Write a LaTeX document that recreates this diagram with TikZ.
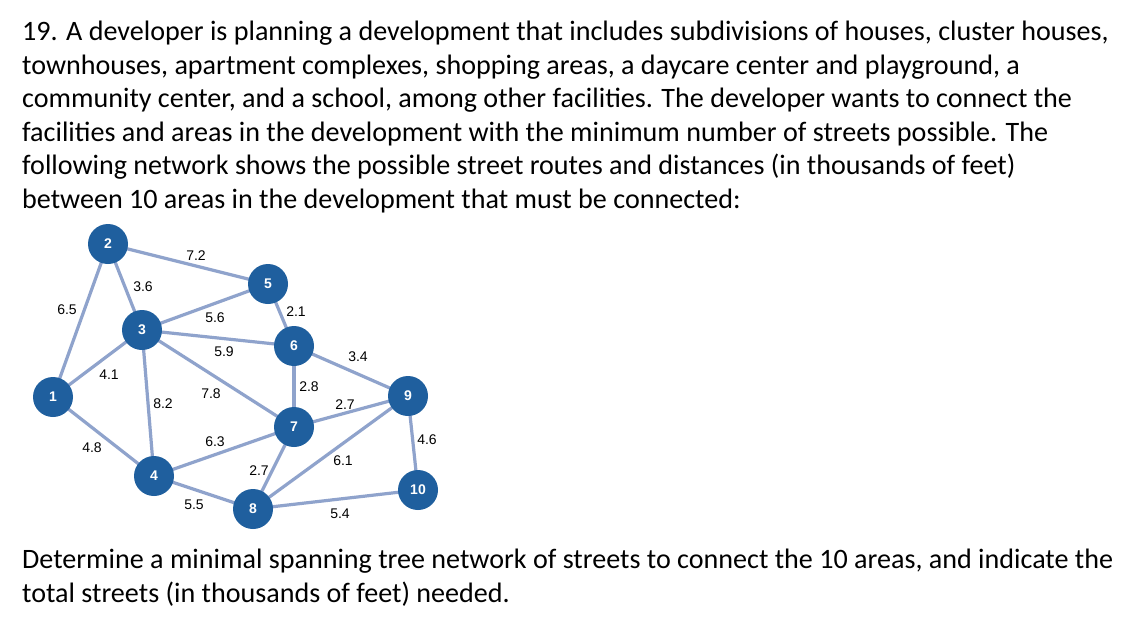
\documentclass[tikz,border=0pt]{standalone}
\usepackage{fontspec}
\setmainfont{Carlito}
\newfontfamily\lab{Liberation Sans}
\begin{document}
\begin{tikzpicture}[x=1pt,y=-1pt,
  vtx/.style={circle,fill=nodeblue,minimum size=40pt,inner sep=0pt,text=white,font=\lab\bfseries\fontsize{14}{14}\selectfont},
  edge/.style={draw=edgeblue,line width=3.2pt},
  wl/.style={font=\lab\fontsize{14}{14}\selectfont,inner sep=0pt},
  txt/.style={anchor=base west,inner sep=0pt,font=\fontsize{28.1}{28}\selectfont}]
\definecolor{nodeblue}{HTML}{1F5F9E}
\definecolor{edgeblue}{HTML}{8FA3CC}
\useasboundingbox (0,0) rectangle (1142,627);
\fill[white] (0,0) rectangle (1142,627);
\node[txt] (t1) at (22,40) {19. A developer is planning a development that includes subdivisions of houses, cluster houses,};
\node[txt] (t2) at (22,74) {townhouses, apartment complexes, shopping areas, a daycare center and playground, a};
\node[txt] (t3) at (22,107) {community center, and a school, among other facilities. The developer wants to connect the};
\node[txt] (t4) at (22,141) {facilities and areas in the development with the minimum number of streets possible. The};
\node[txt] (t5) at (22,174) {following network shows the possible street routes and distances (in thousands of feet)};
\node[txt] (t6) at (22,208) {between 10 areas in the development that must be connected:};
\node[txt] (t7) at (22,568) {Determine a minimal spanning tree network of streets to connect the 10 areas, and indicate the};
\node[txt] (t8) at (22,602) {total streets (in thousands of feet) needed.};
\coordinate (p1) at (53,397);
\coordinate (p2) at (108,244);
\coordinate (p3) at (142,330);
\coordinate (p4) at (154,476);
\coordinate (p5) at (268,284);
\coordinate (p6) at (294,346);
\coordinate (p7) at (294,427);
\coordinate (p8) at (253,509);
\coordinate (p9) at (408,396);
\coordinate (p10) at (418,490);
\foreach \a/\b in {1/2,2/3,2/5,3/5,3/6,3/1,3/7,3/4,1/4,5/6,6/7,6/9,7/9,7/4,7/8,9/8,9/10,4/8,8/10}
  \draw[edge] (p\a) -- (p\b);
\foreach \i in {1,...,10} \node[vtx] (n\i) at (p\i) {\i};
\node[wl] (l1) at (196,256) {7.2};
\node[wl] (l2) at (143,287) {3.6};
\node[wl] (l3) at (67,310) {6.5};
\node[wl] (l4) at (215,318) {5.6};
\node[wl] (l5) at (296,312) {2.1};
\node[wl] (l6) at (224,352) {5.9};
\node[wl] (l7) at (358,357) {3.4};
\node[wl] (l8) at (109,375) {4.1};
\node[wl] (l9) at (211,394) {7.8};
\node[wl] (l10) at (163,404) {8.2};
\node[wl] (l11) at (309,387) {2.8};
\node[wl] (l12) at (345,405) {2.7};
\node[wl] (l13) at (427,440) {4.6};
\node[wl] (l14) at (92,448) {4.8};
\node[wl] (l15) at (215,442) {6.3};
\node[wl] (l16) at (343,461) {6.1};
\node[wl] (l17) at (259,471) {2.7};
\node[wl] (l18) at (194,505) {5.5};
\node[wl] (l19) at (340,514) {5.4};
\end{tikzpicture}
\end{document}
